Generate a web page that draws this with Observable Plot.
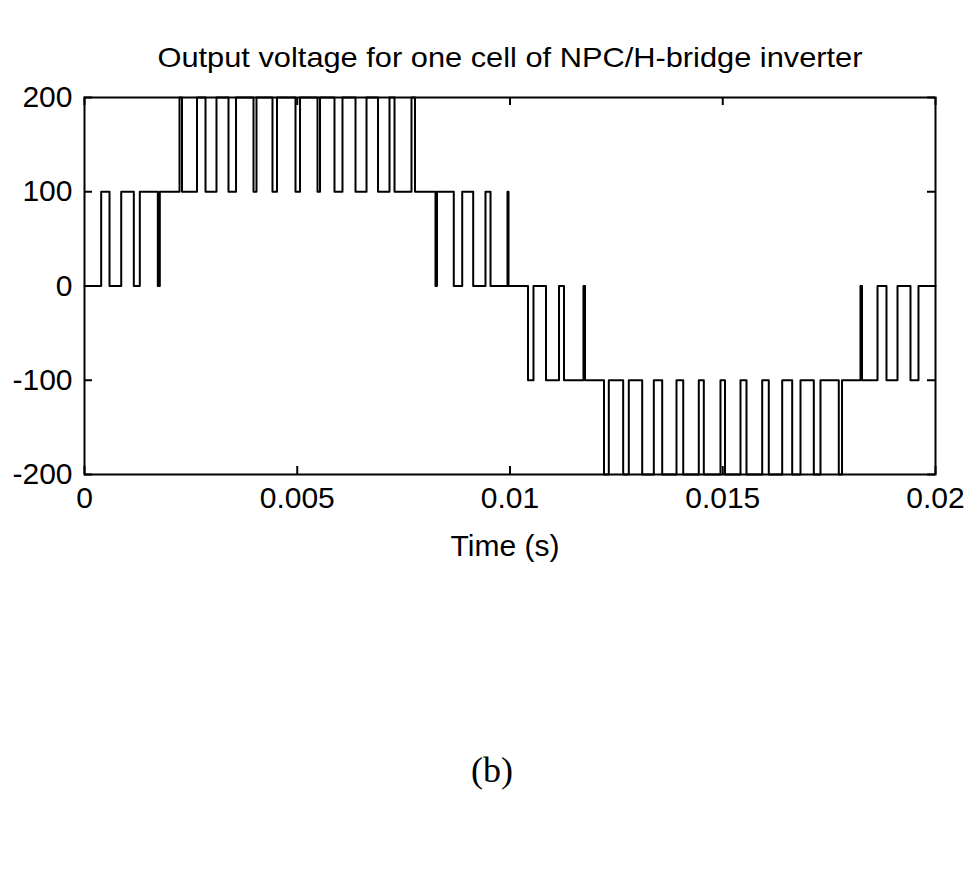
<!DOCTYPE html>
<html>
<head>
<meta charset="utf-8">
<script src="https://cdn.jsdelivr.net/npm/d3@7"></script>
<script src="https://cdn.jsdelivr.net/npm/@observablehq/plot@0.6"></script>
<style>
  body { margin: 0; background: #fff; }
  svg { display: block; }
</style>
</head>
<body>
<div id="chart"></div>
<script>
// Switching instants (s) and the output level (V) held from each instant on
const switchTimes = [
  0, 0.000392, 0.000588, 0.000863, 0.001159, 0.0013, 0.001723, 0.00177,
  0.002233, 0.002291, 0.002644, 0.002844, 0.003102, 0.003384, 0.003561, 0.003972,
  0.004042, 0.004418, 0.004524, 0.004959, 0.005065, 0.005476, 0.005535, 0.005875,
  0.006063, 0.006369, 0.006628, 0.006898, 0.007168, 0.007286, 0.007685, 0.007767,
  0.008249, 0.008284, 0.008679, 0.008877, 0.009135, 0.009424, 0.009542, 0.009941,
  0.009965, 0.010423, 0.010552, 0.010846, 0.011152, 0.011269, 0.011727, 0.011763,
  0.012209, 0.012322, 0.01266, 0.012792, 0.013107, 0.01338, 0.013577, 0.013913,
  0.014071, 0.014437, 0.014555, 0.014947, 0.015053, 0.015417, 0.015558, 0.015927,
  0.016082, 0.016397, 0.016632, 0.016827, 0.01714, 0.017297, 0.017727, 0.017803,
  0.018237, 0.018273, 0.018637, 0.018848, 0.019107, 0.019412, 0.0196, 0.02
];
const voltageLevels = [
  0, 100, 0, 100, 0, 100, 0, 100,
  200, 100, 200, 100, 200, 100, 200, 100,
  200, 100, 200, 100, 200, 100, 200, 100,
  200, 100, 200, 100, 200, 100, 200, 100,
  0, 100, 0, 100, 0, 100, 0, 100,
  0, -100, 0, -100, 0, -100, 0, -100,
  -200, -100, -200, -100, -200, -100, -200, -100,
  -200, -100, -200, -100, -200, -100, -200, -100,
  -200, -100, -200, -100, -200, -100, -200, -100,
  0, -100, 0, -100, 0, -100, 0, 0
];
const xTicks = [0, 0.005, 0.01, 0.015, 0.02];
const xTickLabels = ["0", "0.005", "0.01", "0.015", "0.02"];
const yTicks = [-200, -100, 0, 100, 200];
const yTickLabels = ["-200", "-100", "0", "100", "200"];
const titleText = "Output voltage for one cell of NPC/H-bridge inverter";
const xLabelText = "Time (s)";
const panelLabel = "(b)";

const wave = switchTimes.map((t, i) => ({t, v: voltageLevels[i]}));

const W = 979, H = 869;
const mL = 84, mR = 44, mT = 97, mB = 395;
const frameW = W - mL - mR, frameH = H - mT - mB;
const tickLen = 8;
const sans = "'Liberation Sans', Arial, Helvetica, sans-serif";

const chart = Plot.plot({
  width: W,
  height: H,
  marginLeft: mL,
  marginRight: mR,
  marginTop: mT,
  marginBottom: mB,
  style: {fontFamily: sans, fontSize: "30px", color: "black", background: "white"},
  x: {domain: [0, 0.02]},
  y: {domain: [-200, 200]},
  marks: [
    Plot.line(wave, {x: "t", y: "v", curve: "step-after", stroke: "black", strokeWidth: 2}),
    Plot.frame({stroke: "black", strokeWidth: 2}),
    // inward ticks on all four sides
    Plot.tickX(xTicks, {x: d => d, insetTop: frameH - tickLen, stroke: "black", strokeWidth: 2}),
    Plot.tickX(xTicks, {x: d => d, insetBottom: frameH - tickLen, stroke: "black", strokeWidth: 2}),
    Plot.tickY(yTicks, {y: d => d, insetRight: frameW - tickLen, stroke: "black", strokeWidth: 2}),
    Plot.tickY(yTicks, {y: d => d, insetLeft: frameW - tickLen, stroke: "black", strokeWidth: 2}),
    Plot.axisX(xTicks, {anchor: "bottom", tickSize: 0, tickPadding: 12, label: null,
      tickFormat: d => xTickLabels[xTicks.indexOf(d)], fontSize: 30}),
    Plot.axisY(yTicks, {anchor: "left", tickSize: 0, tickPadding: 12, label: null,
      tickFormat: d => yTickLabels[yTicks.indexOf(d)], fontSize: 30}),
    Plot.text([titleText], {frameAnchor: "top", dy: -39, fontSize: 28, lineAnchor: "middle", fill: "black"}),
    Plot.text([xLabelText], {frameAnchor: "bottom", dx: -5, dy: 72, fontSize: 30, lineAnchor: "middle", fill: "black"}),
    Plot.text([panelLabel], {frameAnchor: "bottom", dx: -18, dy: 296, fontSize: 36, lineAnchor: "middle", fill: "black",
      fontFamily: "'Liberation Serif', 'Times New Roman', serif"})
  ]
});

document.getElementById("chart").appendChild(chart);

// stretch the title to the reference width
chart.querySelectorAll("text").forEach(el => {
  if (el.textContent === titleText) {
    el.setAttribute("textLength", 705);
    el.setAttribute("lengthAdjust", "spacingAndGlyphs");
  }
});
</script>
</body>
</html>
